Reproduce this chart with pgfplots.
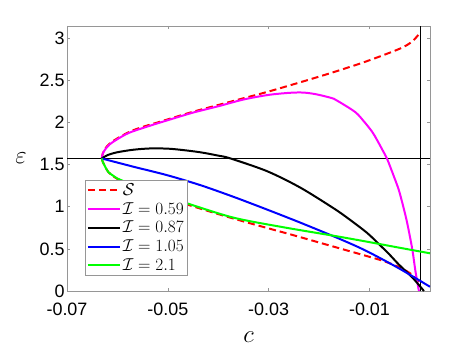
\documentclass[border=0pt]{standalone}
\usepackage{fontspec}
\setmainfont{Liberation Sans}
\usepackage{pgfplots}
\pgfplotsset{compat=1.18}
\definecolor{mred}{RGB}{255,0,0}
\definecolor{mmag}{RGB}{255,0,255}
\definecolor{mblue}{RGB}{0,0,255}
\definecolor{mgreen}{RGB}{0,255,0}
\definecolor{mbox}{RGB}{150,150,150}
\begin{document}
\begin{tikzpicture}
\begin{axis}[
  scale only axis, width=363bp, height=265bp,
  xmin=-0.07, xmax=0.002, ymin=0, ymax=3.14159,
  scaled x ticks=false,
  xtick={-0.07,-0.05,-0.03,-0.01}, xticklabels={-0.07,-0.05,-0.03,-0.01},
  ytick={0,0.5,1,1.5,2,2.5,3}, yticklabels={0,0.5,1,1.5,2,2.5,3},
  tick pos=both, xticklabel pos=lower, yticklabel pos=left,
  tick align=inside, major tick length=3.5pt,
  axis line style={mbox, line width=0.7pt},
  tick style={mbox, line width=0.6pt},
  ticklabel style={font=\fontsize{18}{20}\selectfont},
  xticklabel shift=8bp,
  yticklabel shift=-1bp,
  xlabel={$c$}, ylabel={$\varepsilon$},
  label style={font=\fontsize{28}{30}\selectfont},
  ylabel style={rotate=-90, at={(axis description cs:0,0.5)}, anchor=center, xshift=-46bp},
  xlabel style={at={(axis description cs:0.5,0)}, anchor=center, yshift=-46bp},
  legend style={at={(0.05,0.419)}, anchor=north west, draw=mbox, line width=0.6pt,
    font=\fontsize{16}{18}\selectfont, inner sep=1.5pt, row sep=1.5pt,
    cells={anchor=west}},
  legend image code/.code={\draw[#1] (0pt,0pt) -- (32pt,0pt);},
  every axis plot/.append style={line width=2pt},
]
\addplot[black, line width=0.8pt, forget plot] coordinates {(-0.07,1.5708) (0.002,1.5708)};
\addplot[black, line width=0.8pt, forget plot] coordinates {(0,0) (0,3.14159)};
% S (upper branch)
\addplot[mred, dash pattern=on 7pt off 4pt, smooth] coordinates {
(-0.0631,1.571) (-0.0629,1.63) (-0.0624,1.69) (-0.0615,1.75) (-0.060,1.81)
(-0.0575,1.89) (-0.055,1.945) (-0.0522,1.995) (-0.050,2.035) (-0.045,2.125)
(-0.040,2.205) (-0.035,2.285) (-0.0303,2.36) (-0.0237,2.475) (-0.0171,2.595)
(-0.0105,2.725) (-0.0039,2.875) (-0.0015,2.96) (0,3.06)};
\addlegendentry{$\mathcal{S}$}
% S (lower branch)
\addplot[mred, dash pattern=on 7pt off 4pt, smooth, forget plot] coordinates {
(-0.0631,1.571) (-0.0629,1.53) (-0.0624,1.47) (-0.0618,1.41) (-0.0608,1.36)
(-0.0595,1.315) (-0.055,1.21) (-0.050,1.10) (-0.0456,1.015) (-0.040,0.912)
(-0.035,0.825) (-0.030,0.742) (-0.025,0.66) (-0.020,0.575) (-0.015,0.49)
(-0.010,0.405) (-0.0072,0.355) (-0.004,0.28) (-0.0015,0.19) (0,0.08)};
% I = 0.59
\addplot[mmag, smooth] coordinates {
(-0.0631,1.571) (-0.0629,1.63) (-0.0624,1.68) (-0.0615,1.74) (-0.060,1.80)
(-0.0575,1.88) (-0.0522,1.985) (-0.050,2.025) (-0.045,2.115) (-0.040,2.19)
(-0.035,2.27) (-0.030,2.325) (-0.0257,2.35) (-0.023,2.352) (-0.0204,2.33)
(-0.0171,2.28) (-0.0158,2.235) (-0.0128,2.12) (-0.0111,2.01) (-0.0095,1.89)
(-0.0085,1.79) (-0.0075,1.68) (-0.0065,1.565) (-0.0053,1.38) (-0.0042,1.20)
(-0.0033,1.00) (-0.0025,0.80) (-0.0015,0.49) (-0.0009,0.24) (-0.0002,0.0)};
\addlegendentry{$\mathcal{I}=0.59$}
% I = 0.87
\addplot[black, smooth] coordinates {
(-0.0631,1.571) (-0.062,1.61) (-0.060,1.645) (-0.0568,1.675) (-0.0535,1.69)
(-0.0502,1.688) (-0.0476,1.675) (-0.0436,1.645) (-0.040,1.605) (-0.0376,1.572)
(-0.0303,1.42) (-0.0237,1.225) (-0.0171,0.98) (-0.0140,0.85) (-0.0105,0.69)
(-0.0082,0.56) (-0.006,0.43) (-0.0042,0.315) (-0.0015,0.16) (0.0008,0.0)};
\addlegendentry{$\mathcal{I}=0.87$}
% I = 1.05
\addplot[mblue, smooth] coordinates {
(-0.0631,1.571) (-0.0568,1.473) (-0.0502,1.374) (-0.0436,1.256) (-0.037,1.117)
(-0.0303,0.965) (-0.0237,0.81) (-0.0164,0.63) (-0.0108,0.48) (-0.0042,0.27)
(0.002,0.05)};
\addlegendentry{$\mathcal{I}=1.05$}
% I = 2.1
\addplot[mgreen, smooth] coordinates {
(-0.0631,1.571) (-0.0629,1.53) (-0.0624,1.47) (-0.0618,1.41) (-0.0608,1.365)
(-0.0595,1.32) (-0.055,1.22) (-0.050,1.12) (-0.0462,1.04) (-0.037,0.87)
(-0.027,0.755) (-0.0171,0.655) (-0.0108,0.588) (-0.0045,0.518) (0.002,0.447)};
\addlegendentry{$\mathcal{I}=2.1$}
\end{axis}
\path (current axis.south west) ++(-67bp,-60bp) coordinate (bbA);
\path (current axis.north east) ++(44bp,26bp) coordinate (bbB);
\path (bbA) rectangle (bbB);
\end{tikzpicture}
\end{document}
